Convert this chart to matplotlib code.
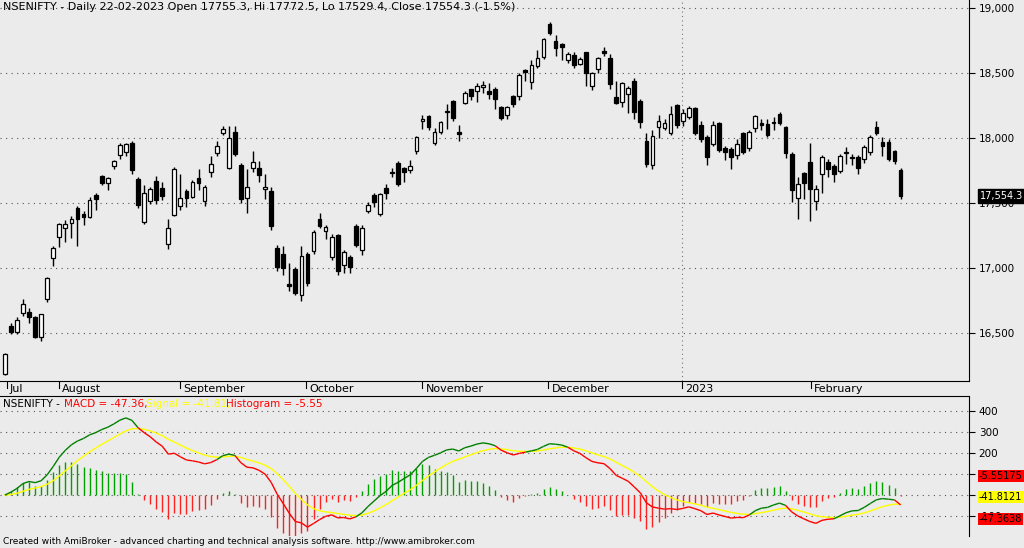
import numpy as np
import pandas as pd
import matplotlib
matplotlib.use("Agg")
import matplotlib.pyplot as plt
from matplotlib.collections import LineCollection

opens = [16185,16555,16508,16655,16662,16623,16470,16762,17077,17238,17308,17346,17461,17415,17392,17561,17708,17654,17785,17869,
 17892,17961,17685,17354,17515,17669,17615,17185,17408,17477,17592,17546,17692,17515,17738,17885,18038,17769,18046,17792,
 17538,17769,17769,17608,17592,17154,17108,16877,16992,16792,17108,17131,17377,17285,17085,17254,17023,17085,17323,17138,
 17438,17561,17415,17615,17735,17808,17769,17754,17900,18131,18169,17962,18046,18200,18285,18046,18269,18377,18362,18392,
 18362,18377,18239,18177,18323,18323,18523,18431,18554,18623,18877,18746,18723,18600,18639,18569,18662,18400,18531,18669,
 18615,18315,18277,18339,18438,18285,17977,17792,18085,18077,18038,18254,18131,18162,18231,18100,18008,17954,18115,17923,
 17915,17869,18038,17923,18077,18115,18108,18115,18185,18085,17877,17538,17731,17815,17515,17723,17815,17785,17746,17885,
 17854,17854,17838,17892,18085,17969,17969,17900,17755.3]
closes = [16340,16510,16600,16725,16623,16469,16646,16923,17154,17338,17338,17377,17377,17392,17523,17530,17654,17692,17823,17946,
 17954,17754,17485,17577,17608,17523,17554,17308,17762,17538,17538,17662,17654,17623,17800,17938,18069,18000,17877,17531,
 17623,17815,17715,17623,17323,17008,17000,16862,16808,17092,16885,17277,17323,17315,17239,16977,17123,17008,17177,17308,
 17485,17508,17569,17577,17730,17646,17738,17785,18008,18146,18085,18046,18123,18208,18154,18031,18346,18323,18400,18408,
 18339,18300,18154,18239,18262,18485,18508,18562,18615,18762,18808,18692,18700,18646,18562,18608,18500,18500,18615,18654,
 18415,18269,18423,18385,18200,18123,17800,18015,18131,18115,18185,18100,18192,18231,18038,17992,17854,18100,17908,17892,
 17854,17954,17892,18046,18169,18100,18023,18123,18115,17885,17600,17646,17654,17608,17608,17854,17761,17723,17862,17892,
 17846,17769,17931,18008,18038,17938,17838,17823,17554.3]
highs = [16345,16575,16625,16760,16690,16630,16650,16930,17170,17345,17370,17400,17480,17440,17550,17575,17715,17700,17830,17960,
 17960,17980,17700,17640,17620,17710,17660,17380,17780,17720,17610,17680,17760,17640,17860,17980,18090,18090,18090,17810,
 17760,17900,17820,17720,17620,17180,17170,17040,17010,17170,17120,17290,17420,17330,17260,17260,17140,17100,17340,17330,
 17510,17580,17575,17650,17770,17820,17780,17830,18015,18180,18175,18080,18130,18260,18290,18100,18360,18380,18420,18440,
 18420,18390,18250,18250,18330,18500,18530,18600,18680,18770,18890,18790,18730,18660,18660,18620,18665,18510,18620,18700,
 18650,18440,18430,18400,18460,18300,18040,18060,18180,18150,18250,18260,18220,18250,18240,18130,18020,18130,18120,17940,
 17930,17990,18050,18060,18180,18150,18150,18160,18200,18090,17890,17700,17740,17960,17640,17870,17840,17800,17880,17930,
 17880,17870,17950,18020,18130,18010,17990,17910,17772.5]
lows = [16180,16490,16490,16630,16580,16460,16440,16740,17015,17160,17200,17230,17170,17330,17385,17450,17640,17600,17760,17840,
 17860,17720,17460,17340,17490,17490,17520,17150,17400,17450,17470,17540,17600,17480,17700,17860,18020,17760,17860,17500,
 17420,17740,17660,17530,17290,16980,16950,16820,16790,16750,16860,17110,17310,17220,17060,16950,16960,16960,17160,17100,
 17420,17470,17400,17530,17700,17630,17660,17730,17880,18070,18060,17950,18030,18070,18130,17980,18260,18290,18280,18350,
 18300,18220,18140,18150,18240,18290,18440,18380,18540,18610,18790,18630,18600,18580,18540,18560,18400,18370,18500,18630,
 18380,18260,18240,18190,18150,18080,17780,17760,18000,18060,18020,18080,18090,18150,18020,17970,17790,17940,17890,17830,
 17760,17840,17880,17900,18050,18060,18010,18060,18100,17850,17510,17380,17530,17360,17450,17580,17700,17660,17730,17800,
 17790,17720,17810,17870,18020,17860,17820,17800,17529.4]

month_labels = ["Jul", "August", "September", "October", "November", "December", "2023", "February"]
month_pos = [0.3, 8.9, 29.0, 49.8, 69.0, 89.8, 111.9, 133.2]
price_ticks = [16500, 17000, 17500, 18000, 18500, 19000]
macd_ticks = [-100, 0, 100, 200, 300, 400]

BG = "#ebebeb"
W, H = 1024, 548
fig = plt.figure(figsize=(W/100, H/100), dpi=100, facecolor=BG)

def rect(l, t, r, b):
    return [l/W, 1-b/H, (r-l)/W, (b-t)/H]

n = len(closes)
x = np.arange(n)
xlim = (-0.8, 159.3)
R = 969

ax = fig.add_axes(rect(0, 0, R, 381), facecolor=BG)
ax.set_xlim(*xlim)
ax.set_ylim(16131, 19062)
for yv in price_ticks:
    ax.axhline(yv, color="#555555", lw=0.8, ls=(0, (1, 4)), zorder=0)
ax.axvline(111.9, color="#777777", lw=0.8, ls=(0, (1, 3)), zorder=0)
o = np.array(opens); c = np.array(closes); h = np.array(highs); l = np.array(lows)
ax.vlines(x, l, h, color="black", lw=1, zorder=2)
up = c >= o
bw = 0.62
ax.bar(x[up], (c-o)[up], bottom=o[up], width=bw, facecolor="white", edgecolor="black", lw=0.9, zorder=3)
ax.bar(x[~up], (o-c)[~up], bottom=c[~up], width=bw, facecolor="black", edgecolor="black", lw=0.9, zorder=3)
ax.yaxis.tick_right()
ax.set_yticks(price_ticks)
ax.set_yticklabels([f"{v:,}" for v in price_ticks], fontsize=7.5)
ax.tick_params(axis="y", length=4, pad=3)
ax.set_xticks([])
for s in ["top", "left", "bottom"]:
    ax.spines[s].set_visible(False)
ax.spines["right"].set_color("black")
ax.text(0.003, 0.995, "NSENIFTY - Daily 22-02-2023 Open 17755.3, Hi 17772.5, Lo 17529.4, Close 17554.3 (-1.5%)",
        transform=ax.transAxes, fontsize=8, va="top", ha="left")
ax.annotate(f"{closes[-1]:,.1f}", xy=(1, closes[-1]), xycoords=("axes fraction", "data"),
            xytext=(8, 0), textcoords="offset points", fontsize=7, color="white", va="center",
            bbox=dict(boxstyle="square,pad=0.2", fc="black", ec="black"))

axd = fig.add_axes(rect(0, 381, R, 396), facecolor=BG)
axd.set_xlim(*xlim); axd.set_ylim(0, 1)
axd.set_yticks([]); axd.set_xticks([])
for s in ["left", "right", "bottom"]:
    axd.spines[s].set_visible(False)
for lab, p in zip(month_labels, month_pos):
    axd.plot([p, p], [0.55, 1], color="black", lw=0.8)
    axd.text(p + 0.5, 0.45, lab, fontsize=8, va="center", ha="left")

cs = pd.Series(closes, dtype=float)
macd = cs.ewm(span=12, adjust=False).mean() - cs.ewm(span=26, adjust=False).mean()
sig = macd.ewm(span=9, adjust=False).mean()
hist = (macd - sig).values
macd = macd.values; sig = sig.values

ax2 = fig.add_axes(rect(0, 396, R, 536), facecolor=BG)
ax2.set_xlim(*xlim); ax2.set_ylim(-195, 471)
for yv in macd_ticks:
    ax2.axhline(yv, color="#555555", lw=0.8, ls=(0, (1, 4)), zorder=0)
hcol = np.where(hist >= 0, "#00a000", "#ff2020")
ax2.vlines(x, 0, hist * 1.6, colors=hcol, lw=1)
ax2.plot(x, sig, color="#ffff00", lw=1)
segs = [[(x[i], macd[i]), (x[i+1], macd[i+1])] for i in range(n-1)]
scol = ["#008000" if macd[i+1] >= sig[i+1] else "#ff0000" for i in range(n-1)]
ax2.add_collection(LineCollection(segs, colors=scol, lw=1))
ax2.yaxis.tick_right()
ax2.set_yticks(macd_ticks)
ax2.set_yticklabels([str(v) for v in macd_ticks], fontsize=7.5)
ax2.tick_params(axis="y", length=4, pad=3)
ax2.set_xticks([])
for s in ["left", "bottom"]:
    ax2.spines[s].set_visible(False)
ax2.spines["top"].set_color("black")
labs = [("-5.55175", 92, "#ff0000"), ("-41.8121", -10, "#ffff00"), ("-47.3638", -112, "#ff0000")]
for txt, yv, fc in labs:
    ax2.annotate(txt, xy=(1, yv), xycoords=("axes fraction", "data"), xytext=(7, 0),
                 textcoords="offset points", fontsize=7, color="black", va="center",
                 bbox=dict(boxstyle="square,pad=0.1", fc=fc, ec="none"), annotation_clip=False, zorder=5)
ty = 1 - 404/H
fs = 7.5
fig.text(3/W, ty, "NSENIFTY - ", fontsize=fs, va="center", color="black")
fig.text(64/W, ty, "MACD = -47.36,", fontsize=fs, va="center", color="#ff0000")
fig.text(146/W, ty, "Signal = -41.81,", fontsize=fs, va="center", color="#ffff00")
fig.text(226/W, ty, "Histogram = -5.55", fontsize=fs, va="center", color="#ff0000")

fig.text(3/W, 1 - 542/H, "Created with AmiBroker - advanced charting and technical analysis software. http://www.amibroker.com",
         fontsize=6.5, va="center", color="black")

fig.savefig("out.png", dpi=100, facecolor=BG)
